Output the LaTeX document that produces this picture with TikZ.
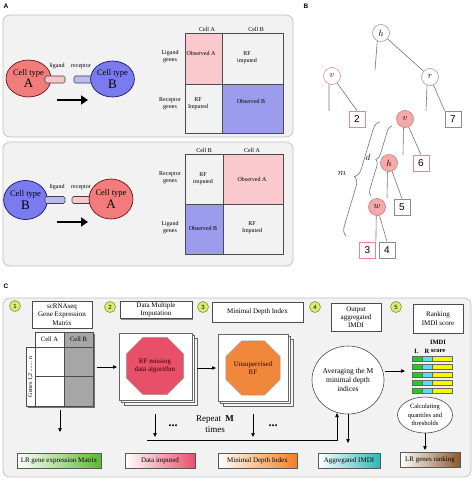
\documentclass[tikz,border=0pt]{standalone}
\usepackage{fontspec}
\setmainfont{Liberation Serif}
\newfontfamily\lsans{Liberation Sans}
\usetikzlibrary{shapes.geometric,decorations.pathreplacing,arrows.meta,shadows}
\definecolor{cellred}{HTML}{F27C7C}
\definecolor{cellblue}{HTML}{7B7BF0}
\definecolor{ligpink}{HTML}{F8C6C6}
\definecolor{ligblue}{HTML}{BBBBF2}
\definecolor{obsA}{HTML}{F9C9CD}
\definecolor{obsB}{HTML}{9C9CEE}
\definecolor{treepink}{HTML}{E48888}
\definecolor{treefill}{HTML}{F5A9A9}
\definecolor{stepfill}{HTML}{DCEB72}
\definecolor{stepdraw}{HTML}{7C9A2A}
\definecolor{octred}{HTML}{E8506A}
\definecolor{octorange}{HTML}{F0873A}
\definecolor{grgreen}{HTML}{5DB833}
\definecolor{grteal}{HTML}{2EB8B8}
\definecolor{grbrown}{HTML}{8B5A2B}
\definecolor{grorange}{HTML}{F08020}
\definecolor{barG}{HTML}{22CC22}
\definecolor{barC}{HTML}{55E0F0}
\definecolor{barY}{HTML}{F5F500}
\begin{document}
\begin{tikzpicture}[x=1pt,y=-1pt,
  panel/.style={draw=black!25,fill=black!5,rounded corners=7pt,line width=0.7pt},
  tx/.style={font=\fontsize{6}{7}\selectfont,align=center,inner sep=0pt},
  panlab/.style={font=\lsans\bfseries\fontsize{6.5}{7}\selectfont,inner sep=0pt},
  cellR/.style={ellipse,draw=red!35!black,fill=cellred,line width=0.6pt,inner sep=0pt,align=center,font=\fontsize{8.5}{9}\selectfont},
  cellB/.style={ellipse,draw=blue!35!black,fill=cellblue,line width=0.6pt,inner sep=0pt,align=center,font=\fontsize{8.5}{9}\selectfont},
  recbox/.style={draw=black!75,rounded corners=1.5pt,minimum width=20pt,minimum height=7pt,inner sep=0pt,line width=0.6pt},
  bigarrow/.style={line width=2.6pt,-{Triangle[length=7pt,width=9pt]}},
  mline/.style={draw=black!70,line width=0.8pt},
  tnode/.style={circle,draw=black!40,fill=white,minimum size=17pt,inner sep=0pt,line width=0.6pt,font=\fontsize{9.5}{9.5}\selectfont},
  tpink/.style={tnode,draw=treepink},
  tfill/.style={tnode,draw=treepink!90!black,fill=treefill},
  leaf/.style={draw=black!45,fill=white,minimum size=16pt,inner sep=0pt,line width=0.8pt,font=\lsans\fontsize{10}{10}\selectfont},
  leafp/.style={leaf,draw=treepink},
  tedge/.style={draw=black!55,line width=0.6pt},
  stepnum/.style={circle,draw=stepdraw,fill=stepfill,minimum size=11pt,inner sep=0pt,line width=0.6pt,font=\lsans\fontsize{6}{6}\selectfont},
  tbox/.style={draw=black!70,fill=white,line width=0.6pt,inner sep=1pt,align=center,font=\fontsize{7}{8.3}\selectfont,drop shadow={shadow xshift=1.3pt,shadow yshift=-1.3pt,fill=black!55,opacity=0.8}},
  card/.style={draw=black!60,fill=white,line width=0.6pt},
  oct/.style={regular polygon,regular polygon sides=8,minimum size=56pt,inner sep=0pt,align=center,draw=black!40,line width=0.5pt,font=\fontsize{7}{8.3}\selectfont},
  arr/.style={line width=0.6pt,-{Triangle[length=4pt,width=3.5pt]}},
  gbox/.style={draw=black!65,line width=0.6pt,minimum height=15pt,inner sep=0pt,font=\fontsize{7}{8}\selectfont,drop shadow={shadow xshift=1.2pt,shadow yshift=-1.2pt,fill=black!55,opacity=0.8}},
  bar/.style={draw=black!60,line width=0.4pt},
  dotsn/.style={font=\bfseries\fontsize{12}{12}\selectfont,inner sep=0pt}
]
\useasboundingbox (0,0) rectangle (474,481);

% ================= Panel A =================
\node[panlab] (labA) at (6,6) {A};
\draw[panel] (3,15) rectangle (293,137);
\draw[panel] (3,142) rectangle (293,266);

% upper: A -> B
\node[cellR,minimum width=45pt,minimum height=37pt] (ca1) at (28.5,78.5) {Cell type\\[1pt]{\fontsize{13}{13}\selectfont A}};
\node[recbox,fill=ligpink] (lig1) at (55,79.5) {};
\node[recbox,fill=ligblue] (rec1) at (84,79.5) {};
\node[cellB,minimum width=43pt,minimum height=36pt] (cb1) at (112.5,79) {Cell type\\[1pt]{\fontsize{13}{13}\selectfont B}};
\node[tx] (ligt1) at (57,66) {ligand};
\node[tx] (rect1) at (81,66) {receptor};
\coordinate (a1s) at (57,100); \coordinate (a1e) at (88,100);
\draw[bigarrow] (a1s) -- (a1e);

\fill[obsA] (185,33) rectangle (222,84);
\fill[obsB] (222,84) rectangle (283,133);
\draw[mline] (185,33) rectangle (283,133);
\draw[mline] (222,33) -- (222,133);
\draw[mline] (185,84) -- (283,84);
\node[tx] (m1ca) at (207,29) {Cell A};
\node[tx] (m1cb) at (256,29) {Cell B};
\node[tx] (m1lg) at (170,57) {Ligand\\genes};
\node[tx] (m1rg) at (170,104) {Receptor\\genes};
\node[tx] (m1oa) at (201,53) {Observed A};
\node[tx] (m1rf) at (247,58) {RF\\imputed};
\node[tx] (m1ri) at (198,104) {RF\\Imputed};
\node[tx] (m1ob) at (251,101) {Observed B};

% lower: B -> A
\node[cellB,minimum width=40pt,minimum height=39pt] (cb2) at (25.5,200) {Cell type\\[1pt]{\fontsize{13}{13}\selectfont B}};
\node[recbox,fill=ligblue] (lig2) at (55,200) {};
\node[recbox,fill=ligpink] (rec2) at (82,200) {};
\node[cellR,minimum width=44pt,minimum height=40pt] (ca2) at (111,199) {Cell type\\[1pt]{\fontsize{13}{13}\selectfont A}};
\node[tx] (ligt2) at (57,187) {ligand};
\node[tx] (rect2) at (81,187) {receptor};
\coordinate (a2s) at (57,222); \coordinate (a2e) at (88,222);
\draw[bigarrow] (a2s) -- (a2e);

\fill[obsA] (223,154) rectangle (283,204);
\fill[obsB] (185,204) rectangle (223,254);
\draw[mline] (185,154) rectangle (283,254);
\draw[mline] (223,154) -- (223,254);
\draw[mline] (185,204) -- (283,204);
\node[tx] (m2cb) at (204,150) {Cell B};
\node[tx] (m2ca) at (252,150) {Cell A};
\node[tx] (m2rg) at (170,178) {Receptor\\genes};
\node[tx] (m2lg) at (170,228) {Ligand\\genes};
\node[tx] (m2rf) at (203,179) {RF\\imputed};
\node[tx] (m2oa) at (252,179) {Observed A};
\node[tx] (m2ob) at (203,228) {Observed B};
\node[tx] (m2ri) at (252,228) {RF\\Imputed};

% ================= Panel B =================
\node[panlab] (labB) at (306,6) {B};
\node[tnode] (h1) at (381,33) {$h$};
\node[tnode] (r1) at (430,77) {$r$};
\node[tpink] (v1) at (332,76) {$v$};
\node[leafp] (b2) at (357,119) {2};
\node[leaf] (b7) at (453,119) {7};
\node[tfill] (v2) at (405,119) {$v$};
\node[leafp] (b6) at (421,163) {6};
\node[tfill] (h2) at (389,163) {$h$};
\node[leaf] (b5) at (402,207) {5};
\node[tfill] (w1) at (377,207) {$w$};
\node[leafp] (b3) at (367.5,250) {3};
\node[leaf] (b4) at (387,250) {4};

\coordinate (h1d) at (375,70);
\coordinate (v1d) at (329,111);
\coordinate (r1d) at (426,111);
\coordinate (v2d) at (403,155);
\coordinate (h2d) at (387,198);
\draw[tedge] (h1.245) -- (h1d);
\draw[tedge] (h1) -- (r1);
\draw[tedge] (v1.250) -- (v1d);
\draw[tedge] (v1) -- (b2.north);
\draw[tedge] (r1.250) -- (r1d);
\draw[tedge] (r1) -- (b7.north west);
\draw[tedge] (v2.260) -- (v2d);
\draw[tedge] (v2) -- (b6.north);
\draw[tedge] (h2.260) -- (h2d);
\draw[tedge] (h2) -- (b5.north);
\draw[tedge] (w1.265) -- (b3.north east);
\draw[tedge] (w1) -- (b4.north);

\coordinate (mTop) at (380,122); \coordinate (mBot) at (346,236);
\coordinate (dTop) at (392,126); \coordinate (dBot) at (371,196);
\draw[tedge,decorate,decoration={brace,amplitude=9pt}] (mBot) -- (mTop);
\draw[tedge,decorate,decoration={brace,amplitude=6pt}] (dBot) -- (dTop);
\node[font=\fontsize{9.5}{9.5}\selectfont,inner sep=0pt] (mlab) at (342,174) {$m$};
\node[font=\fontsize{9.5}{9.5}\selectfont,inner sep=0pt] (dlab) at (368,157) {$d$};

% ================= Panel C =================
\node[panlab] (labC) at (6,286) {C};
\draw[panel] (3,298) rectangle (471,477);

\node[stepnum] (n1) at (15,306) {1};
\node[stepnum] (n2) at (110,307) {2};
\node[stepnum] (n3) at (203,307) {3};
\node[stepnum] (n4) at (315,307) {4};
\node[stepnum] (n5) at (396,307) {5};

\node[tbox,minimum width=60pt,minimum height=27pt] (t1) at (62,314.5) {scRNAseq\\Gene Expression\\Matrix};
\node[tbox,minimum width=72pt,minimum height=16pt] (t2) at (156,310) {Data Multiple\\Imputation};
\node[tbox,minimum width=91pt,minimum height=20pt] (t3) at (257.5,312) {Minimal Depth Index};
\node[tbox,minimum width=50pt,minimum height=28pt] (t4) at (356,317) {Output\\aggregated\\IMDI};
\node[tbox,minimum width=50pt,minimum height=29pt] (t5) at (438,318.5) {Ranking\\IMDI score};

% matrix
\fill[black!55] (28,349) rectangle (95,408);
\fill[black!55] (37,334) rectangle (95,349);
\fill[white] (35,332) rectangle (64,347);
\fill[black!35] (64,332) rectangle (93,347);
\fill[white] (26,347) rectangle (64,406);
\fill[black!35] (64,347) rectangle (93,406);
\draw[line width=0.6pt,draw=black!70] (35,332) rectangle (93,406);
\draw[line width=0.6pt,draw=black!70] (26,347) rectangle (35,406);
\draw[line width=0.6pt,draw=black!70] (35,347) -- (93,347);
\draw[line width=0.6pt,draw=black!70] (64,332) -- (64,406);
\draw[line width=0.6pt,draw=black!70] (35,376.5) -- (93,376.5);
\node[tx,font=\fontsize{6.5}{7}\selectfont] (mca) at (49.5,339.5) {Cell A};
\node[tx,font=\fontsize{6.5}{7}\selectfont] (mcb) at (78.5,339.5) {Cell B};
\node[tx,rotate=90] (genes) at (30.5,376.5) {Genes 1,2 ....... n};

% stacks
\draw[card,fill=black!4] (124,338) rectangle (197,405);
\draw[card] (121.5,335.5) rectangle (194.5,402.5);
\draw[card] (119,333) rectangle (192,400);
\draw[card,fill=black!4] (223,339) rectangle (293,406);
\draw[card] (220.5,336.5) rectangle (290.5,403.5);
\draw[card] (218,334) rectangle (288,401);
\node[oct,fill=octred,text=black!80!red] (o1) at (155,366) {RF missing\\data algorithm};
\node[oct,fill=octorange,text=black!80!red,minimum size=53pt] (o2) at (253,368) {Unsupervised\\RF};

\coordinate (mxr) at (97,367); \coordinate (s1l) at (117,367);
\draw[arr] (mxr) -- (s1l);
\coordinate (s1r) at (197,368); \coordinate (s2l) at (216,368);
\draw[arr] (s1r) -- (s2l);

\coordinate (mxb) at (60,410); \coordinate (mxe) at (60,432);
\draw[arr] (mxb) -- (mxe);

\coordinate (d1s) at (155,414); \coordinate (d1e) at (155,437);
\coordinate (d2s) at (253,414); \coordinate (d2e) at (253,437);
\draw[arr] (d1s) -- (d1e);
\draw[arr] (d2s) -- (d2e);
\node[dotsn] (dots1) at (173,426) {...};
\node[dotsn] (dots2) at (273,426) {...};
\node[align=center,inner sep=0pt,font=\fontsize{9}{11}\selectfont] (rep) at (215,424) {Repeat\enspace\textbf{M}\\times};

\node[ellipse,draw=black!70,fill=white,line width=0.6pt,minimum width=72pt,minimum height=68pt,inner sep=0pt,align=center,font=\fontsize{7.5}{9}\selectfont] (avg) at (348,380) {Averaging the M\\minimal depth\\indices};
\coordinate (lnL) at (147,440); \coordinate (lnR) at (337,440); \coordinate (lnT) at (337,413);
\draw[arr] (lnL) -- (lnR) -- (lnT);
\coordinate (avgE) at (348,443);
\draw[arr] (avg.south) -- (avgE);
\coordinate (avgR) at (385,371); \coordinate (barL) at (405,371);
\draw[arr] (avgR) -- (barL);

% bars
\foreach \yy in {356,364,372,380,388}{
  \draw[bar,fill=barG] (412,\yy) rectangle (422,\yy+5.5);
  \draw[bar,fill=barC] (422,\yy) rectangle (432,\yy+5.5);
  \draw[bar,fill=barY] (432,\yy) rectangle (452,\yy+5.5);
}
\node[tx,font=\bfseries\fontsize{6.5}{8.5}\selectfont] (imdi) at (438,346.5) {IMDI\\score};
\node[tx,font=\bfseries\fontsize{6.5}{7}\selectfont] (lL) at (416.5,351) {L};
\node[tx,font=\bfseries\fontsize{6.5}{7}\selectfont] (lR) at (427,351) {R};

\node[ellipse,draw=black!70,fill=white,line width=0.6pt,minimum width=55pt,minimum height=36pt,inner sep=0pt,align=center,font=\fontsize{6.5}{8.3}\selectfont] (calc) at (425,415) {Calculating\\quantiles and\\thresholds};
\coordinate (calcE) at (425,450);
\draw[arr] (calc.south) -- (calcE);

% bottom boxes
\node[gbox,minimum width=84pt,left color=white,right color=grgreen] (g1) at (59,460.5) {LR gene expression Matrix};
\node[gbox,minimum width=70pt,left color=white,right color=octred] (g2) at (160,460.5) {Data imputed};
\node[gbox,minimum width=79pt,left color=white,right color=grorange] (g3) at (257.5,460.5) {Minimal Depth Index};
\node[gbox,minimum width=62pt,left color=white,right color=grteal] (g4) at (349,460.5) {Aggregated IMDI};
\node[gbox,minimum width=60pt,left color=white,right color=grbrown] (g5) at (430,459.5) {LR genes ranking};
\end{tikzpicture}
\end{document}
